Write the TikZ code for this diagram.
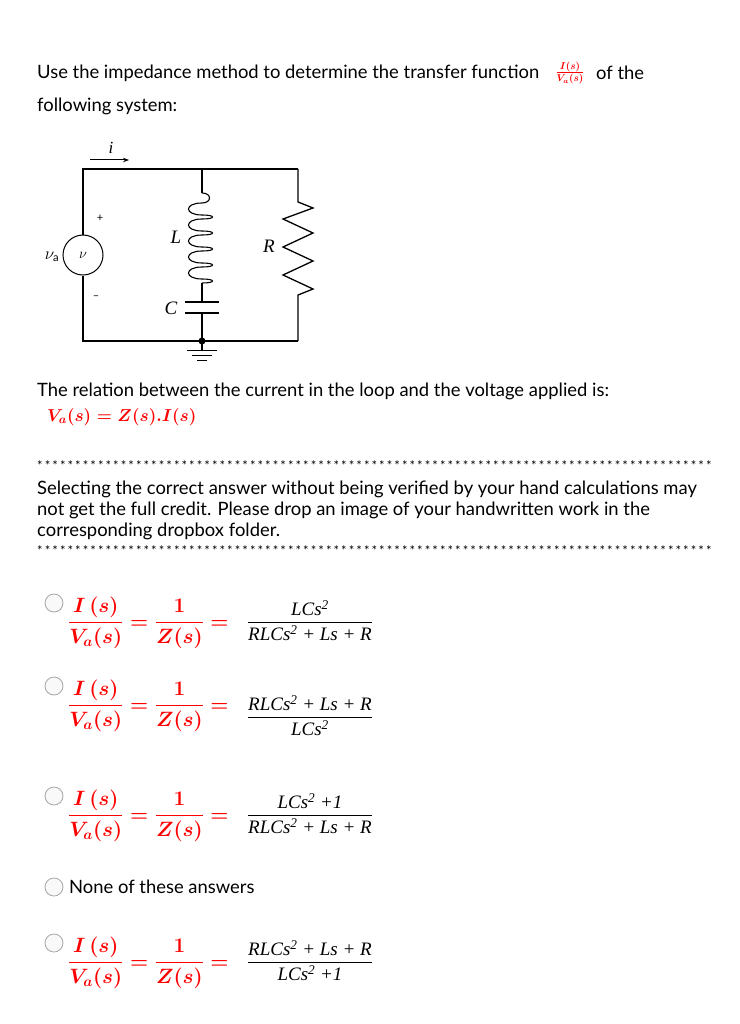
\documentclass[tikz,border=0pt]{standalone}
\usepackage{amsmath}
\usepackage{fontspec}
\usetikzlibrary{arrows.meta}
\setmainfont{Lato}
\newfontfamily\tnr{Liberation Serif}
\newcommand{\txtfrac}[2]{\renewcommand{\arraystretch}{1.15}\begin{tabular}{@{}c@{}}#1\\[-1pt]\hline #2\end{tabular}}
\begin{document}
\begin{tikzpicture}[x=1pt,y=-1pt,
  txt/.style={anchor=west,inner sep=0pt,font=\fontsize{18.4}{22}\selectfont},
  red/.style={text=red},
  wire/.style={line width=1.3pt},
  radio/.style={draw=gray!70,fill=gray!5,line width=0.8pt,circle,minimum size=18pt,inner sep=0pt},
  lf/.style={anchor=west,inner sep=0pt,text=red,font=\fontsize{21}{24}\selectfont\boldmath},
  rf/.style={inner sep=0pt,font=\fontsize{19}{22}\selectfont\tnr\itshape}]
\useasboundingbox (0,0) rectangle (739,1024);
\fill[white] (0,0) rectangle (739,1024);
% header
\node[txt] (t1) at (37,73) {Use the impedance method to determine the transfer function};
\node[inner sep=0pt,text=red,font=\fontsize{14}{16}\selectfont\boldmath] (tf) at (570,73) {$\frac{I(s)}{V_a(s)}$};
\node[txt] (t2) at (596,73) {of the};
\node[txt] (t3) at (37,106) {following system:};
% circuit
\coordinate (tl) at (83,169); \coordinate (tm) at (202,169); \coordinate (tr) at (298,169);
\coordinate (bl) at (83,341); \coordinate (bm) at (202,341); \coordinate (br) at (298,341);
\node[draw,circle,line width=1pt,minimum size=40pt,inner sep=0pt,font=\fontsize{15}{15}\selectfont] (src) at (83,255) {$\nu$};
\draw[wire] (src.north) -- (tl) -- (tm) -- (tr);
\draw[wire] (src.south) -- (bl) -- (bm) -- (br);
\draw[wire] (tm) -- (202,193);
\draw[line width=1.1pt] (202,193) .. controls (212,193) and (212,203) .. (202,203) \foreach \k in {0,...,4}{ .. controls (184,203+16*\k) and (184,215+16*\k) .. (202,215+16*\k) .. controls (216,215+16*\k) and (216,203+16*\k+16) .. (202,203+16*\k+16)} ;
\draw[wire] (202,283) -- (202,302);
\draw[wire] (185,302) -- (219,302);
\draw[wire] (185,313) -- (219,313);
\draw[wire] (202,313) -- (bm);
\fill (bm) circle (3.5);
\draw[line width=1pt] (187,350) -- (217,350) (192,355) -- (212,355) (197,360) -- (207,360);
\draw[wire] (bm) -- (202,350);
\draw[wire] (tr) -- (298,202) -- (313,208) \foreach \k in {0,1,2}{ -- (283,219+28*\k) -- (313,233+28*\k)} -- (298,295) -- (br);
\draw[line width=1pt,-{Stealth[length=6pt]}] (90,160) -- (129,160);
\node[font=\tnr\itshape\fontsize{17}{17}\selectfont] (il) at (111,148) {i};
\node[font=\fontsize{11}{11}\selectfont] (pl) at (100,218) {+};
\node[font=\fontsize{11}{11}\selectfont] (mi) at (96,298) {--};
\node[font=\fontsize{16}{16}\selectfont] (va) at (52,257) {$\nu_{\rm a}$};
\node[font=\tnr\itshape\fontsize{19}{19}\selectfont] (ll) at (176,237) {L};
\node[font=\tnr\itshape\fontsize{19}{19}\selectfont] (rl) at (269,246) {R};
\node[font=\tnr\itshape\fontsize{19}{19}\selectfont] (cl) at (171,308) {C};
% relation
\node[txt] (t4) at (37,391) {The relation between the current in the loop and the voltage applied is:};
\node[txt,red,font=\fontsize{18}{20}\selectfont\boldmath] (t5) at (47,417) {$V_a(s)=Z(s).I(s)$};
\foreach \yy in {463,548}{\foreach \k in {0,...,88}{\node[inner sep=0pt,font=\fontsize{13}{13}\selectfont] at (40+7.6*\k,\yy+3) {*};}}
\node[txt] (p1) at (37,489) {Selecting the correct answer without being verified by your hand calculations may};
\node[txt] (p2) at (37,510) {not get the full credit. Please drop an image of your handwritten work in the};
\node[txt] (p3) at (37,531) {corresponding dropbox folder.};
% options
\newcommand{\lhsfrac}{$\dfrac{I\,(s)}{V_a(s)}=\dfrac{1}{Z(s)}=$}
\foreach \yy/\nm in {603/a,686/b,796/c,943/e}{
  \node[radio] (r\nm) at (54,\yy) {};
  \node[lf] (f\nm) at (68,\yy+20) {\lhsfrac};
}
\node[rf] (g1) at (310,623) {\txtfrac{LCs\textsuperscript{2}}{RLCs\textsuperscript{2} + Ls + R}};
\node[rf] (g2) at (310,718) {\txtfrac{RLCs\textsuperscript{2} + Ls + R}{LCs\textsuperscript{2}}};
\node[rf] (g3) at (310,816) {\txtfrac{LCs\textsuperscript{2} +1}{RLCs\textsuperscript{2} + Ls + R}};
\node[rf] (g5) at (310,963) {\txtfrac{RLCs\textsuperscript{2} + Ls + R}{LCs\textsuperscript{2} +1}};
\node[radio] (rd) at (54,887) {};
\node[txt] (nd) at (69,887) {None of these answers};
\end{tikzpicture}
\end{document}
